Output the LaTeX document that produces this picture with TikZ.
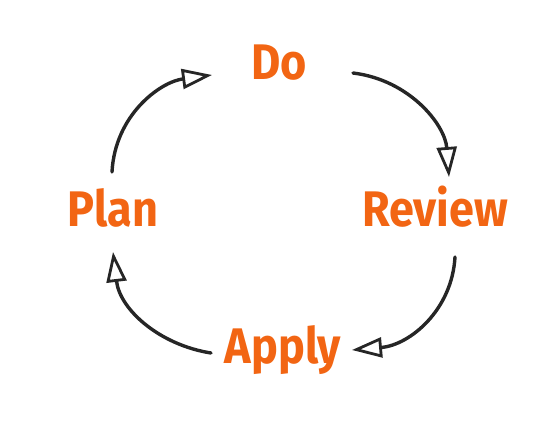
\documentclass[tikz,border=0pt]{standalone}
\usepackage{fontspec}
\setmainfont{Fira Sans}
\usetikzlibrary{arrows.meta}
\definecolor{stageorange}{HTML}{F26513}
\tikzset{
  stage/.style={text=stageorange, font=\fontsize{50}{56}\selectfont\bfseries, inner sep=0pt, xscale=0.9},
  cyc/.style={draw=black!85, line width=3.4pt, line cap=round,
    -{Triangle[open, length=30pt, width=20pt, line width=2.8pt]}}
}
\begin{document}
\begin{tikzpicture}[x=1pt,y=-1pt]
\useasboundingbox (0,0) rectangle (547,425);
\node[stage] (do) at (279,63) {Do};
\node[stage] (review) at (435,207) {Review};
\node[stage] (apply) at (283,350) {Apply};
\node[stage] (plan) at (113,208) {Plan};
\coordinate (a1s) at (112,172);
\coordinate (a1e) at (212,75);
\coordinate (a2s) at (353,73);
\coordinate (a2e) at (449,177);
\coordinate (a3s) at (455,257);
\coordinate (a3e) at (352,350);
\coordinate (a4s) at (211,353);
\coordinate (a4e) at (113,252);
\draw[cyc] (a1s) .. controls (115,115) and (160,82) .. (a1e);
\draw[cyc] (a2s) .. controls (410,80) and (445,125) .. (a2e);
\draw[cyc] (a3s) .. controls (452,310) and (410,345) .. (a3e);
\draw[cyc] (a4s) .. controls (160,345) and (120,310) .. (a4e);
\end{tikzpicture}
\end{document}
